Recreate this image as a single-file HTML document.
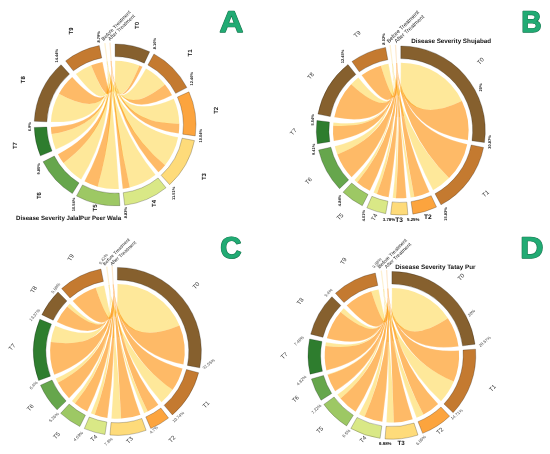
<!DOCTYPE html>
<html lang="en"><head><meta charset="utf-8"><title>Disease Severity chord diagrams</title>
<style>html,body{margin:0;padding:0;background:#fff}body{width:550px;height:454px;overflow:hidden}svg{display:block;text-rendering:geometricPrecision}</style></head>
<body>
<svg width="550" height="454" viewBox="0 0 550 454" font-family="'Liberation Sans', Arial, sans-serif">
<g><path d="M115.1 60.7A64.2 64.2 0 0 1 139.42 65.49Q115.1 124.9 107.51 61.15A64.2 64.2 0 0 1 107.61 61.14Q115.1 124.9 115.1 60.7Z" fill="#fed135" fill-opacity="0.5"/>
<path d="M145.93 68.59A64.2 64.2 0 0 1 165 84.5Q115.1 124.9 107.41 61.16A64.2 64.2 0 0 1 107.51 61.15Q115.1 124.9 145.93 68.59Z" fill="#fed135" fill-opacity="0.5"/>
<path d="M173.7 98.69A64.2 64.2 0 0 1 179.29 123.63Q115.1 124.9 107.3 61.18A64.2 64.2 0 0 1 107.41 61.16Q115.1 124.9 173.7 98.69Z" fill="#fed135" fill-opacity="0.5"/>
<path d="M178.08 137.37A64.2 64.2 0 0 1 165.09 165.18Q115.1 124.9 107.17 61.19A64.2 64.2 0 0 1 107.3 61.18Q115.1 124.9 178.08 137.37Z" fill="#fed135" fill-opacity="0.5"/>
<path d="M155.5 174.79A64.2 64.2 0 0 1 129.8 187.39Q115.1 124.9 107.06 61.21A64.2 64.2 0 0 1 107.17 61.19Q115.1 124.9 155.5 174.79Z" fill="#fed135" fill-opacity="0.5"/>
<path d="M118.91 188.99A64.2 64.2 0 0 1 97.68 186.69Q115.1 124.9 106.97 61.22A64.2 64.2 0 0 1 107.06 61.21Q115.1 124.9 118.91 188.99Z" fill="#fed135" fill-opacity="0.5"/>
<path d="M81.17 179.4A64.2 64.2 0 0 1 63.43 163Q115.1 124.9 106.87 61.23A64.2 64.2 0 0 1 106.97 61.22Q115.1 124.9 81.17 179.4Z" fill="#fed135" fill-opacity="0.5"/>
<path d="M55.79 149.47A64.2 64.2 0 0 1 51.56 134.08Q115.1 124.9 106.8 61.24A64.2 64.2 0 0 1 106.87 61.23Q115.1 124.9 55.79 149.47Z" fill="#fed135" fill-opacity="0.5"/>
<path d="M50.97 121.99A64.2 64.2 0 0 1 58.94 93.79Q115.1 124.9 106.68 61.25A64.2 64.2 0 0 1 106.8 61.24Q115.1 124.9 50.97 121.99Z" fill="#fed135" fill-opacity="0.5"/>
<path d="M75.84 74.1A64.2 64.2 0 0 1 91.2 65.32Q115.1 124.9 106.61 61.26A64.2 64.2 0 0 1 106.68 61.25Q115.1 124.9 75.84 74.1Z" fill="#fed135" fill-opacity="0.5"/>
<path d="M139.42 65.49A64.2 64.2 0 0 1 142.54 66.86Q115.1 124.9 111.6 60.8A64.2 64.2 0 0 1 111.63 60.79Q115.1 124.9 139.42 65.49Z" fill="#fd8c02" fill-opacity="0.6"/>
<path d="M165 84.5A64.2 64.2 0 0 1 172.05 95.26Q115.1 124.9 111.48 60.8A64.2 64.2 0 0 1 111.6 60.8Q115.1 124.9 165 84.5Z" fill="#fd8c02" fill-opacity="0.6"/>
<path d="M179.29 123.63A64.2 64.2 0 0 1 178.71 133.61Q115.1 124.9 111.38 60.81A64.2 64.2 0 0 1 111.48 60.8Q115.1 124.9 179.29 123.63Z" fill="#fd8c02" fill-opacity="0.6"/>
<path d="M165.09 165.18A64.2 64.2 0 0 1 158.39 172.31Q115.1 124.9 111.29 60.81A64.2 64.2 0 0 1 111.38 60.81Q115.1 124.9 165.09 165.18Z" fill="#fd8c02" fill-opacity="0.6"/>
<path d="M129.8 187.39A64.2 64.2 0 0 1 122.7 188.65Q115.1 124.9 111.23 60.82A64.2 64.2 0 0 1 111.29 60.81Q115.1 124.9 129.8 187.39Z" fill="#fd8c02" fill-opacity="0.6"/>
<path d="M97.68 186.69A64.2 64.2 0 0 1 84.47 181.32Q115.1 124.9 111.09 60.83A64.2 64.2 0 0 1 111.23 60.82Q115.1 124.9 97.68 186.69Z" fill="#fd8c02" fill-opacity="0.6"/>
<path d="M63.43 163A64.2 64.2 0 0 1 57.95 154.15Q115.1 124.9 111 60.83A64.2 64.2 0 0 1 111.09 60.83Q115.1 124.9 63.43 163Z" fill="#fd8c02" fill-opacity="0.6"/>
<path d="M51.56 134.08A64.2 64.2 0 0 1 50.93 126.92Q115.1 124.9 110.93 60.84A64.2 64.2 0 0 1 111 60.83Q115.1 124.9 51.56 134.08Z" fill="#fd8c02" fill-opacity="0.6"/>
<path d="M58.94 93.79A64.2 64.2 0 0 1 72.23 77.12Q115.1 124.9 110.73 60.85A64.2 64.2 0 0 1 110.93 60.84Q115.1 124.9 58.94 93.79Z" fill="#fd8c02" fill-opacity="0.6"/>
<path d="M91.2 65.32A64.2 64.2 0 0 1 102.52 61.94Q115.1 124.9 110.62 60.86A64.2 64.2 0 0 1 110.73 60.85Q115.1 124.9 91.2 65.32Z" fill="#fd8c02" fill-opacity="0.6"/>
<path d="M115.1 60.7Q115.1 99.22 112.4 91.67M142.54 66.86Q126.07 101.68 118.23 92.54M145.93 68.59Q127.43 102.37 117.3 92.94M172.05 95.26Q137.88 113.04 122.91 97.08M173.7 98.69Q138.54 114.41 121.71 97.76M178.71 133.61Q140.54 128.39 123.94 103.22M178.08 137.37Q140.29 129.89 122.37 103.95M158.39 172.31Q132.42 143.86 120.66 109.41M155.5 174.79Q131.26 144.86 118.71 109.95M122.7 188.65Q118.14 150.4 114.92 112.03M118.91 188.99Q116.62 150.53 112.81 112.22M84.47 181.32Q102.85 147.47 108.76 110.86M81.17 179.4Q101.53 146.7 106.74 110.69M57.95 154.15Q92.24 136.6 104.48 106.51M55.79 149.47Q91.37 134.73 102.65 105.91M50.93 126.92Q89.43 125.71 103.33 102.16M50.97 121.99Q89.45 123.74 101.85 101.52M72.23 77.12Q97.95 105.79 106.67 94.2M75.84 74.1Q99.4 104.58 105.79 93.86M102.52 61.94Q110.07 99.72 111.48 91.77" fill="none" stroke="#fff" stroke-width="0.2"/>
<path d="M115.1 44A80.9 80.9 0 0 1 149.67 51.76L144.29 63.15A68.3 68.3 0 0 0 115.1 56.6Z" fill="#86602e" stroke="#000" stroke-opacity=".45" stroke-width=".5"/>
<path d="M153.95 53.94A80.9 80.9 0 0 1 186.86 87.54L175.68 93.36A68.3 68.3 0 0 0 147.9 64.99Z" fill="#c47a30" stroke="#000" stroke-opacity=".45" stroke-width=".5"/>
<path d="M188.95 91.87A80.9 80.9 0 0 1 195.25 135.88L182.77 134.17A68.3 68.3 0 0 0 177.45 97.01Z" fill="#fca43e" stroke="#000" stroke-opacity=".45" stroke-width=".5"/>
<path d="M194.46 140.61A80.9 80.9 0 0 1 169.65 184.64L161.15 175.34A68.3 68.3 0 0 0 182.1 138.17Z" fill="#fedb7a" stroke="#000" stroke-opacity=".45" stroke-width=".5"/>
<path d="M166.01 187.77A80.9 80.9 0 0 1 124.68 205.23L123.19 192.72A68.3 68.3 0 0 0 158.08 177.98Z" fill="#d9e886" stroke="#000" stroke-opacity=".45" stroke-width=".5"/>
<path d="M119.9 205.66A80.9 80.9 0 0 1 76.5 196L82.51 184.92A68.3 68.3 0 0 0 119.15 193.08Z" fill="#9dc864" stroke="#000" stroke-opacity=".45" stroke-width=".5"/>
<path d="M72.35 193.58A80.9 80.9 0 0 1 43.08 161.75L54.3 156.01A68.3 68.3 0 0 0 79.01 182.88Z" fill="#66a64c" stroke="#000" stroke-opacity=".45" stroke-width=".5"/>
<path d="M40.36 155.86A80.9 80.9 0 0 1 34.24 127.44L46.83 127.05A68.3 68.3 0 0 0 52 151.04Z" fill="#2e7d2e" stroke="#000" stroke-opacity=".45" stroke-width=".5"/>
<path d="M34.28 121.23A80.9 80.9 0 0 1 61.07 64.69L69.49 74.06A68.3 68.3 0 0 0 46.87 121.8Z" fill="#86602e" stroke="#000" stroke-opacity=".45" stroke-width=".5"/>
<path d="M65.63 60.89A80.9 80.9 0 0 1 99.25 45.57L101.72 57.92A68.3 68.3 0 0 0 73.33 70.86Z" fill="#c47a30" stroke="#000" stroke-opacity=".45" stroke-width=".5"/>
<path d="M104.2 43.22A82.4 82.4 0 0 1 105.49 43.06L107.61 61.14A64.2 64.2 0 0 0 106.61 61.26Z" fill="#fdf1d2"/>
<path d="M109.35 42.7A82.4 82.4 0 0 1 110.64 42.62L111.63 60.79A64.2 64.2 0 0 0 110.62 60.86Z" fill="#fde9cf"/></g>
<g><path d="M400.8 62.7A67.8 67.8 0 0 1 461.9 101.12Q400.8 130.5 392.32 63.23A67.8 67.8 0 0 1 392.89 63.16Q400.8 130.5 400.8 62.7Z" fill="#fed135" fill-opacity="0.5"/>
<path d="M449.08 178.11A67.8 67.8 0 0 1 433.05 190.14Q400.8 130.5 392.17 63.25A67.8 67.8 0 0 1 392.32 63.23Q400.8 130.5 449.08 178.11Z" fill="#fed135" fill-opacity="0.5"/>
<path d="M414.39 196.92A67.8 67.8 0 0 1 410.47 197.61Q400.8 130.5 392.14 63.26A67.8 67.8 0 0 1 392.17 63.25Q400.8 130.5 414.39 196.92Z" fill="#fed135" fill-opacity="0.5"/>
<path d="M395.96 198.13A67.8 67.8 0 0 1 392.65 197.81Q400.8 130.5 392.11 63.26A67.8 67.8 0 0 1 392.14 63.26Q400.8 130.5 395.96 198.13Z" fill="#fed135" fill-opacity="0.5"/>
<path d="M376.93 193.96A67.8 67.8 0 0 1 373.55 192.58Q400.8 130.5 392.08 63.26A67.8 67.8 0 0 1 392.11 63.26Q400.8 130.5 376.93 193.96Z" fill="#fed135" fill-opacity="0.5"/>
<path d="M357.16 182.39A67.8 67.8 0 0 1 354.47 180.01Q400.8 130.5 392.06 63.27A67.8 67.8 0 0 1 392.08 63.26Q400.8 130.5 357.16 182.39Z" fill="#fed135" fill-opacity="0.5"/>
<path d="M337.35 154.38A67.8 67.8 0 0 1 334.85 146.21Q400.8 130.5 391.99 63.27A67.8 67.8 0 0 1 392.06 63.27Q400.8 130.5 337.35 154.38Z" fill="#fed135" fill-opacity="0.5"/>
<path d="M333.17 125.64A67.8 67.8 0 0 1 333.48 122.47Q400.8 130.5 391.97 63.28A67.8 67.8 0 0 1 391.99 63.27Q400.8 130.5 333.17 125.64Z" fill="#fed135" fill-opacity="0.5"/>
<path d="M351.12 84.37A67.8 67.8 0 0 1 358.41 77.59Q400.8 130.5 391.89 63.29A67.8 67.8 0 0 1 391.97 63.28Q400.8 130.5 351.12 84.37Z" fill="#fed135" fill-opacity="0.5"/>
<path d="M380.84 65.71A67.8 67.8 0 0 1 388.56 63.81Q400.8 130.5 391.83 63.3A67.8 67.8 0 0 1 391.89 63.29Q400.8 130.5 380.84 65.71Z" fill="#fed135" fill-opacity="0.5"/>
<path d="M461.9 101.12A67.8 67.8 0 0 1 467.91 140.17Q400.8 130.5 396.95 62.81A67.8 67.8 0 0 1 397.13 62.8Q400.8 130.5 461.9 101.12Z" fill="#fd8c02" fill-opacity="0.6"/>
<path d="M467.22 144.13A67.8 67.8 0 0 1 449.08 178.11Q400.8 130.5 396.77 62.82A67.8 67.8 0 0 1 396.95 62.81Q400.8 130.5 467.22 144.13Z" fill="#fd8c02" fill-opacity="0.6"/>
<path d="M429.45 191.95A67.8 67.8 0 0 1 414.39 196.92Q400.8 130.5 396.7 62.82A67.8 67.8 0 0 1 396.77 62.82Q400.8 130.5 429.45 191.95Z" fill="#fd8c02" fill-opacity="0.6"/>
<path d="M406.47 198.06A67.8 67.8 0 0 1 395.96 198.13Q400.8 130.5 396.66 62.83A67.8 67.8 0 0 1 396.7 62.82Q400.8 130.5 406.47 198.06Z" fill="#fd8c02" fill-opacity="0.6"/>
<path d="M388.68 197.21A67.8 67.8 0 0 1 376.93 193.96Q400.8 130.5 396.6 62.83A67.8 67.8 0 0 1 396.66 62.83Q400.8 130.5 388.68 197.21Z" fill="#fd8c02" fill-opacity="0.6"/>
<path d="M369.91 190.86A67.8 67.8 0 0 1 357.16 182.39Q400.8 130.5 396.53 62.83A67.8 67.8 0 0 1 396.6 62.83Q400.8 130.5 369.91 190.86Z" fill="#fd8c02" fill-opacity="0.6"/>
<path d="M351.62 177.17A67.8 67.8 0 0 1 337.35 154.38Q400.8 130.5 396.41 62.84A67.8 67.8 0 0 1 396.53 62.83Q400.8 130.5 351.62 177.17Z" fill="#fd8c02" fill-opacity="0.6"/>
<path d="M333.83 141.11A67.8 67.8 0 0 1 333.17 125.64Q400.8 130.5 396.34 62.85A67.8 67.8 0 0 1 396.41 62.84Q400.8 130.5 333.83 141.11Z" fill="#fd8c02" fill-opacity="0.6"/>
<path d="M334.29 117.33A67.8 67.8 0 0 1 351.12 84.37Q400.8 130.5 396.17 62.86A67.8 67.8 0 0 1 396.34 62.85Q400.8 130.5 334.29 117.33Z" fill="#fd8c02" fill-opacity="0.6"/>
<path d="M361.62 75.17A67.8 67.8 0 0 1 380.84 65.71Q400.8 130.5 396.07 62.87A67.8 67.8 0 0 1 396.17 62.86Q400.8 130.5 361.62 75.17Z" fill="#fd8c02" fill-opacity="0.6"/>
<path d="M400.8 62.7Q400.8 103.38 397.95 95.41M467.91 140.17Q427.64 134.37 410.15 107.68M467.22 144.13Q427.37 135.95 410.04 108.31M433.05 190.14Q413.7 154.36 402.85 115.83M429.45 191.95Q412.26 155.08 403.94 115.97M410.47 197.61Q404.67 157.34 399.23 117.03M406.47 198.06Q403.07 157.52 400.23 116.95M392.65 197.81Q397.54 157.42 396.37 117.06M388.68 197.21Q395.95 157.18 397.37 116.81M373.55 192.58Q389.9 155.33 393.3 116.23M369.91 190.86Q388.45 154.64 394.35 115.8M354.47 180.01Q382.27 150.3 390.24 114.22M351.62 177.17Q381.13 149.17 391.39 113.61M334.85 146.21Q374.42 136.79 387.08 108.81M333.83 141.11Q374.01 134.74 388.5 107.84M333.48 122.47Q373.87 127.29 386.85 105.02M334.29 117.33Q374.2 125.23 388.55 104.04M358.41 77.59Q383.84 109.33 390.81 97.84M361.62 75.17Q385.13 108.37 392.86 97.3M388.56 63.81Q395.9 103.83 395.61 95.64" fill="none" stroke="#fff" stroke-width="0.2"/>
<path d="M400.8 46A84.5 84.5 0 0 1 484.44 142.55L471.96 140.76A71.9 71.9 0 0 0 400.8 58.6Z" fill="#86602e" stroke="#000" stroke-opacity=".45" stroke-width=".5"/>
<path d="M483.57 147.49A84.5 84.5 0 0 1 440.99 204.83L435 193.75A71.9 71.9 0 0 0 471.23 144.96Z" fill="#c47a30" stroke="#000" stroke-opacity=".45" stroke-width=".5"/>
<path d="M436.51 207.08A84.5 84.5 0 0 1 412.85 214.14L411.06 201.66A71.9 71.9 0 0 0 431.19 195.66Z" fill="#fca43e" stroke="#000" stroke-opacity=".45" stroke-width=".5"/>
<path d="M407.87 214.7A84.5 84.5 0 0 1 390.65 214.39L392.16 201.88A71.9 71.9 0 0 0 406.82 202.15Z" fill="#fedb7a" stroke="#000" stroke-opacity=".45" stroke-width=".5"/>
<path d="M385.69 213.64A84.5 84.5 0 0 1 366.84 207.87L371.9 196.34A71.9 71.9 0 0 0 387.94 201.24Z" fill="#d9e886" stroke="#000" stroke-opacity=".45" stroke-width=".5"/>
<path d="M362.31 205.72A84.5 84.5 0 0 1 343.06 192.2L351.67 183A71.9 71.9 0 0 0 368.05 194.51Z" fill="#9dc864" stroke="#000" stroke-opacity=".45" stroke-width=".5"/>
<path d="M339.51 188.67A84.5 84.5 0 0 1 318.6 150.08L330.86 147.16A71.9 71.9 0 0 0 348.65 179.99Z" fill="#66a64c" stroke="#000" stroke-opacity=".45" stroke-width=".5"/>
<path d="M317.34 143.72A84.5 84.5 0 0 1 316.89 120.49L329.41 121.99A71.9 71.9 0 0 0 329.79 141.75Z" fill="#2e7d2e" stroke="#000" stroke-opacity=".45" stroke-width=".5"/>
<path d="M317.91 114.09A84.5 84.5 0 0 1 347.97 64.55L355.85 74.39A71.9 71.9 0 0 0 330.27 116.53Z" fill="#86602e" stroke="#000" stroke-opacity=".45" stroke-width=".5"/>
<path d="M351.97 61.54A84.5 84.5 0 0 1 385.55 47.39L387.82 59.78A71.9 71.9 0 0 0 359.25 71.82Z" fill="#c47a30" stroke="#000" stroke-opacity=".45" stroke-width=".5"/>
<path d="M389.43 45.26A86 86 0 0 1 390.77 45.09L392.89 63.16A67.8 67.8 0 0 0 391.83 63.3Z" fill="#fdf1d2"/>
<path d="M394.8 44.71A86 86 0 0 1 396.15 44.63L397.13 62.8A67.8 67.8 0 0 0 396.07 62.87Z" fill="#fde9cf"/></g>
<g><path d="M117.4 284.1A67.3 67.3 0 0 1 179.52 325.5Q117.4 351.4 109 284.63A67.3 67.3 0 0 1 109.55 284.56Q117.4 351.4 117.4 284.1Z" fill="#fed135" fill-opacity="0.5"/>
<path d="M172.65 389.83A67.3 67.3 0 0 1 161.46 402.27Q117.4 351.4 108.89 284.64A67.3 67.3 0 0 1 109 284.63Q117.4 351.4 172.65 389.83Z" fill="#fed135" fill-opacity="0.5"/>
<path d="M147.73 411.48A67.3 67.3 0 0 1 144.13 413.16Q117.4 351.4 108.86 284.64A67.3 67.3 0 0 1 108.89 284.64Q117.4 351.4 147.73 411.48Z" fill="#fed135" fill-opacity="0.5"/>
<path d="M121.14 418.6A67.3 67.3 0 0 1 111.42 418.43Q117.4 351.4 108.79 284.65A67.3 67.3 0 0 1 108.86 284.64Q117.4 351.4 121.14 418.6Z" fill="#fed135" fill-opacity="0.5"/>
<path d="M94.74 414.77A67.3 67.3 0 0 1 90.89 413.26Q117.4 351.4 108.76 284.66A67.3 67.3 0 0 1 108.79 284.65Q117.4 351.4 94.74 414.77Z" fill="#fed135" fill-opacity="0.5"/>
<path d="M74.9 403.58A67.3 67.3 0 0 1 71.93 401.02Q117.4 351.4 108.74 284.66A67.3 67.3 0 0 1 108.76 284.66Q117.4 351.4 74.9 403.58Z" fill="#fed135" fill-opacity="0.5"/>
<path d="M57.86 382.77A67.3 67.3 0 0 1 55.78 378.45Q117.4 351.4 108.7 284.66A67.3 67.3 0 0 1 108.74 284.66Q117.4 351.4 57.86 382.77Z" fill="#fed135" fill-opacity="0.5"/>
<path d="M50.75 342.09A67.3 67.3 0 0 1 55.22 325.65Q117.4 351.4 108.59 284.68A67.3 67.3 0 0 1 108.7 284.66Q117.4 351.4 50.75 342.09Z" fill="#fed135" fill-opacity="0.5"/>
<path d="M67.19 306.58A67.3 67.3 0 0 1 69.81 303.81Q117.4 351.4 108.56 284.68A67.3 67.3 0 0 1 108.59 284.68Q117.4 351.4 67.19 306.58Z" fill="#fed135" fill-opacity="0.5"/>
<path d="M95.63 287.72A67.3 67.3 0 0 1 104.21 285.4Q117.4 351.4 108.5 284.69A67.3 67.3 0 0 1 108.56 284.68Q117.4 351.4 95.63 287.72Z" fill="#fed135" fill-opacity="0.5"/>
<path d="M179.52 325.5A67.3 67.3 0 0 1 183.4 364.59Q117.4 351.4 113.57 284.21A67.3 67.3 0 0 1 113.76 284.2Q117.4 351.4 179.52 325.5Z" fill="#fd8c02" fill-opacity="0.6"/>
<path d="M182.5 368.48A67.3 67.3 0 0 1 172.65 389.83Q117.4 351.4 113.46 284.22A67.3 67.3 0 0 1 113.57 284.21Q117.4 351.4 182.5 368.48Z" fill="#fd8c02" fill-opacity="0.6"/>
<path d="M158.37 404.79A67.3 67.3 0 0 1 147.73 411.48Q117.4 351.4 113.4 284.22A67.3 67.3 0 0 1 113.46 284.22Q117.4 351.4 158.37 404.79Z" fill="#fd8c02" fill-opacity="0.6"/>
<path d="M140.42 414.64A67.3 67.3 0 0 1 121.14 418.6Q117.4 351.4 113.3 284.22A67.3 67.3 0 0 1 113.4 284.22Q117.4 351.4 140.42 414.64Z" fill="#fd8c02" fill-opacity="0.6"/>
<path d="M107.45 417.96A67.3 67.3 0 0 1 94.74 414.77Q117.4 351.4 113.24 284.23A67.3 67.3 0 0 1 113.3 284.22Q117.4 351.4 107.45 417.96Z" fill="#fd8c02" fill-opacity="0.6"/>
<path d="M87.27 411.58A67.3 67.3 0 0 1 74.9 403.58Q117.4 351.4 113.17 284.23A67.3 67.3 0 0 1 113.24 284.23Q117.4 351.4 87.27 411.58Z" fill="#fd8c02" fill-opacity="0.6"/>
<path d="M69.07 398.23A67.3 67.3 0 0 1 57.86 382.77Q117.4 351.4 113.08 284.24A67.3 67.3 0 0 1 113.17 284.23Q117.4 351.4 69.07 398.23Z" fill="#fd8c02" fill-opacity="0.6"/>
<path d="M54.28 374.75A67.3 67.3 0 0 1 50.75 342.09Q117.4 351.4 112.92 284.25A67.3 67.3 0 0 1 113.08 284.24Q117.4 351.4 54.28 374.75Z" fill="#fd8c02" fill-opacity="0.6"/>
<path d="M56.86 322A67.3 67.3 0 0 1 67.19 306.58Q117.4 351.4 112.83 284.26A67.3 67.3 0 0 1 112.92 284.25Q117.4 351.4 56.86 322Z" fill="#fd8c02" fill-opacity="0.6"/>
<path d="M72.72 301.07A67.3 67.3 0 0 1 95.63 287.72Q117.4 351.4 112.71 284.26A67.3 67.3 0 0 1 112.83 284.26Q117.4 351.4 72.72 301.07Z" fill="#fd8c02" fill-opacity="0.6"/>
<path d="M117.4 284.1Q117.4 324.48 114.57 316.57M183.4 364.59Q143.8 356.67 126.58 329.32M182.5 368.48Q143.44 358.23 126.44 329.94M161.46 402.27Q135.03 371.75 121.39 335.51M158.37 404.79Q133.79 372.76 122.54 335.76M144.13 413.16Q128.09 376.11 118.6 337.25M140.42 414.64Q126.61 376.7 119.64 337.33M111.42 418.43Q115.01 378.21 113.34 338.1M107.45 417.96Q113.42 378.02 114.33 337.87M90.89 413.26Q106.8 376.14 110.05 337.27M87.27 411.58Q105.35 375.47 111.08 336.85M71.93 401.02Q99.21 371.25 107.01 335.31M69.07 398.23Q98.07 370.13 108.14 334.71M55.78 378.45Q92.75 362.22 104.41 331.7M54.28 374.75Q92.15 360.74 105.75 330.96M55.22 325.65Q92.53 341.1 104.28 323.26M56.86 322Q93.18 339.64 106.1 322.52M69.81 303.81Q98.36 332.36 106.6 319.77M72.72 301.07Q99.53 331.27 108.61 319.18M104.21 285.4Q112.13 325 112.09 316.83" fill="none" stroke="#fff" stroke-width="0.2"/>
<path d="M117.4 267.4A84 84 0 0 1 199.77 367.86L187.42 365.39A71.4 71.4 0 0 0 117.4 280Z" fill="#86602e" stroke="#000" stroke-opacity=".45" stroke-width=".5"/>
<path d="M198.65 372.72A84 84 0 0 1 172.4 414.89L164.15 405.37A71.4 71.4 0 0 0 186.46 369.52Z" fill="#c47a30" stroke="#000" stroke-opacity=".45" stroke-width=".5"/>
<path d="M168.54 418.04A84 84 0 0 1 150.76 428.49L145.76 416.93A71.4 71.4 0 0 0 160.87 408.05Z" fill="#fca43e" stroke="#000" stroke-opacity=".45" stroke-width=".5"/>
<path d="M146.13 430.33A84 84 0 0 1 109.93 435.07L111.05 422.52A71.4 71.4 0 0 0 141.82 418.49Z" fill="#fedb7a" stroke="#000" stroke-opacity=".45" stroke-width=".5"/>
<path d="M104.98 434.48A84 84 0 0 1 84.31 428.61L89.27 417.03A71.4 71.4 0 0 0 106.85 422.02Z" fill="#d9e886" stroke="#000" stroke-opacity=".45" stroke-width=".5"/>
<path d="M79.79 426.51A84 84 0 0 1 60.65 413.33L69.16 404.04A71.4 71.4 0 0 0 85.43 415.24Z" fill="#9dc864" stroke="#000" stroke-opacity=".45" stroke-width=".5"/>
<path d="M57.08 409.86A84 84 0 0 1 40.48 385.16L52.02 380.1A71.4 71.4 0 0 0 66.13 401.09Z" fill="#66a64c" stroke="#000" stroke-opacity=".45" stroke-width=".5"/>
<path d="M38.62 380.54A84 84 0 0 1 39.79 319.25L51.44 324.08A71.4 71.4 0 0 0 50.43 376.17Z" fill="#2e7d2e" stroke="#000" stroke-opacity=".45" stroke-width=".5"/>
<path d="M41.84 314.71A84 84 0 0 1 58 292L66.91 300.91A71.4 71.4 0 0 0 53.17 320.21Z" fill="#86602e" stroke="#000" stroke-opacity=".45" stroke-width=".5"/>
<path d="M61.63 288.58A84 84 0 0 1 100.94 269.03L103.41 281.38A71.4 71.4 0 0 0 70 298.01Z" fill="#c47a30" stroke="#000" stroke-opacity=".45" stroke-width=".5"/>
<path d="M106.09 266.65A85.5 85.5 0 0 1 107.42 266.48L109.55 284.56A67.3 67.3 0 0 0 108.5 284.69Z" fill="#fdf1d2"/>
<path d="M111.44 266.11A85.5 85.5 0 0 1 112.78 266.03L113.76 284.2A67.3 67.3 0 0 0 112.71 284.26Z" fill="#fde9cf"/></g>
<g><path d="M391.9 288.1A67.2 67.2 0 0 1 447.9 318.16Q391.9 355.3 383.54 288.62A67.2 67.2 0 0 1 384.06 288.56Q391.9 355.3 391.9 288.1Z" fill="#fed135" fill-opacity="0.5"/>
<path d="M453.76 381.55A67.2 67.2 0 0 1 440.97 401.22Q391.9 355.3 383.35 288.65A67.2 67.2 0 0 1 383.54 288.62Q391.9 355.3 453.76 381.55Z" fill="#fed135" fill-opacity="0.5"/>
<path d="M423.55 414.58A67.2 67.2 0 0 1 416.53 417.82Q391.9 355.3 383.29 288.65A67.2 67.2 0 0 1 383.35 288.65Q391.9 355.3 423.55 414.58Z" fill="#fed135" fill-opacity="0.5"/>
<path d="M393.87 422.47A67.2 67.2 0 0 1 386.39 422.27Q391.9 355.3 383.23 288.66A67.2 67.2 0 0 1 383.29 288.65Q391.9 355.3 393.87 422.47Z" fill="#fed135" fill-opacity="0.5"/>
<path d="M364.57 416.69A67.2 67.2 0 0 1 359.01 413.9Q391.9 355.3 383.18 288.67A67.2 67.2 0 0 1 383.23 288.66Q391.9 355.3 364.57 416.69Z" fill="#fed135" fill-opacity="0.5"/>
<path d="M340.5 398.59A67.2 67.2 0 0 1 337.4 394.61Q391.9 355.3 383.15 288.67A67.2 67.2 0 0 1 383.18 288.67Q391.9 355.3 340.5 398.59Z" fill="#fed135" fill-opacity="0.5"/>
<path d="M327.65 374.99A67.2 67.2 0 0 1 327.43 374.27Q391.9 355.3 383.14 288.67A67.2 67.2 0 0 1 383.15 288.67Q391.9 355.3 327.65 374.99Z" fill="#fed135" fill-opacity="0.5"/>
<path d="M325.36 345.88A67.2 67.2 0 0 1 325.98 342.25Q391.9 355.3 383.11 288.68A67.2 67.2 0 0 1 383.14 288.67Q391.9 355.3 325.36 345.88Z" fill="#fed135" fill-opacity="0.5"/>
<path d="M340.53 311.98A67.2 67.2 0 0 1 343.81 308.37Q391.9 355.3 383.07 288.68A67.2 67.2 0 0 1 383.11 288.68Q391.9 355.3 340.53 311.98Z" fill="#fed135" fill-opacity="0.5"/>
<path d="M371.26 291.35A67.2 67.2 0 0 1 378.62 289.43Q391.9 355.3 383.01 288.69A67.2 67.2 0 0 1 383.07 288.68Q391.9 355.3 371.26 291.35Z" fill="#fed135" fill-opacity="0.5"/>
<path d="M447.9 318.16A67.2 67.2 0 0 1 458.51 346.41Q391.9 355.3 388.13 288.21A67.2 67.2 0 0 1 388.27 288.2Q391.9 355.3 447.9 318.16Z" fill="#fd8c02" fill-opacity="0.6"/>
<path d="M458.92 350.38A67.2 67.2 0 0 1 453.76 381.55Q391.9 355.3 387.99 288.21A67.2 67.2 0 0 1 388.13 288.21Q391.9 355.3 458.92 350.38Z" fill="#fd8c02" fill-opacity="0.6"/>
<path d="M438.16 404.05A67.2 67.2 0 0 1 423.55 414.58Q391.9 355.3 387.91 288.22A67.2 67.2 0 0 1 387.99 288.21Q391.9 355.3 438.16 404.05Z" fill="#fd8c02" fill-opacity="0.6"/>
<path d="M412.78 419.17A67.2 67.2 0 0 1 393.87 422.47Q391.9 355.3 387.83 288.22A67.2 67.2 0 0 1 387.91 288.22Q391.9 355.3 412.78 419.17Z" fill="#fd8c02" fill-opacity="0.6"/>
<path d="M382.43 421.83A67.2 67.2 0 0 1 364.57 416.69Q391.9 355.3 387.75 288.23A67.2 67.2 0 0 1 387.83 288.22Q391.9 355.3 382.43 421.83Z" fill="#fd8c02" fill-opacity="0.6"/>
<path d="M355.6 411.85A67.2 67.2 0 0 1 340.5 398.59Q391.9 355.3 387.66 288.23A67.2 67.2 0 0 1 387.75 288.23Q391.9 355.3 355.6 411.85Z" fill="#fd8c02" fill-opacity="0.6"/>
<path d="M335.16 391.31A67.2 67.2 0 0 1 327.65 374.99Q391.9 355.3 387.58 288.24A67.2 67.2 0 0 1 387.66 288.23Q391.9 355.3 335.16 391.31Z" fill="#fd8c02" fill-opacity="0.6"/>
<path d="M326.42 370.42A67.2 67.2 0 0 1 325.36 345.88Q391.9 355.3 387.47 288.25A67.2 67.2 0 0 1 387.58 288.24Q391.9 355.3 326.42 370.42Z" fill="#fd8c02" fill-opacity="0.6"/>
<path d="M326.87 338.36A67.2 67.2 0 0 1 340.53 311.98Q391.9 355.3 387.34 288.26A67.2 67.2 0 0 1 387.47 288.25Q391.9 355.3 326.87 338.36Z" fill="#fd8c02" fill-opacity="0.6"/>
<path d="M346.67 305.6A67.2 67.2 0 0 1 371.26 291.35Q391.9 355.3 387.21 288.26A67.2 67.2 0 0 1 387.34 288.26Q391.9 355.3 346.67 305.6Z" fill="#fd8c02" fill-opacity="0.6"/>
<path d="M391.9 288.1Q391.9 328.42 389.08 320.52M458.51 346.41Q418.54 351.74 401.2 329.72M458.92 350.38Q418.71 353.33 401.27 330.36M440.97 401.22Q411.53 373.67 396.67 338.65M438.16 404.05Q410.4 374.8 397.89 338.95M416.53 417.82Q401.75 380.31 392.74 341.31M412.78 419.17Q400.25 380.85 393.8 341.37M386.39 422.27Q389.7 382.09 387.9 342.03M382.43 421.83Q388.11 381.91 388.92 341.8M359.01 413.9Q378.75 378.74 383.5 340.69M355.6 411.85Q377.38 377.92 384.6 340.2M337.4 394.61Q370.1 371.02 380.03 337.6M335.16 391.31Q369.2 369.7 381.29 336.92M327.43 374.27Q366.11 362.89 378.43 334.35M326.42 370.42Q365.71 361.35 379.87 333.58M325.98 342.25Q365.53 350.08 378.19 329.23M326.87 338.36Q365.89 348.52 379.9 328.45M343.81 308.37Q372.66 336.53 381.03 323.81M346.67 305.6Q373.81 335.42 383.02 323.21M378.62 289.43Q386.59 328.95 386.58 320.78" fill="none" stroke="#fff" stroke-width="0.2"/>
<path d="M391.9 271.4A83.9 83.9 0 0 1 475.06 344.2L462.57 345.87A71.3 71.3 0 0 0 391.9 284Z" fill="#86602e" stroke="#000" stroke-opacity=".45" stroke-width=".5"/>
<path d="M475.57 349.16A83.9 83.9 0 0 1 453.16 412.63L443.96 404.02A71.3 71.3 0 0 0 463.01 350.08Z" fill="#c47a30" stroke="#000" stroke-opacity=".45" stroke-width=".5"/>
<path d="M449.65 416.16A83.9 83.9 0 0 1 422.65 433.36L418.03 421.64A71.3 71.3 0 0 0 440.98 407.02Z" fill="#fca43e" stroke="#000" stroke-opacity=".45" stroke-width=".5"/>
<path d="M417.97 435.05A83.9 83.9 0 0 1 385.03 438.92L386.06 426.36A71.3 71.3 0 0 0 414.05 423.07Z" fill="#fedb7a" stroke="#000" stroke-opacity=".45" stroke-width=".5"/>
<path d="M380.08 438.36A83.9 83.9 0 0 1 350.84 428.47L357.01 417.48A71.3 71.3 0 0 0 381.85 425.89Z" fill="#d9e886" stroke="#000" stroke-opacity=".45" stroke-width=".5"/>
<path d="M346.57 425.9A83.9 83.9 0 0 1 323.85 404.38L334.07 397.01A71.3 71.3 0 0 0 353.38 415.3Z" fill="#9dc864" stroke="#000" stroke-opacity=".45" stroke-width=".5"/>
<path d="M321.06 400.26A83.9 83.9 0 0 1 311.41 378.99L323.5 375.43A71.3 71.3 0 0 0 331.7 393.5Z" fill="#66a64c" stroke="#000" stroke-opacity=".45" stroke-width=".5"/>
<path d="M310.15 374.17A83.9 83.9 0 0 1 309.6 339L321.96 341.45A71.3 71.3 0 0 0 322.43 371.34Z" fill="#2e7d2e" stroke="#000" stroke-opacity=".45" stroke-width=".5"/>
<path d="M310.71 334.15A83.9 83.9 0 0 1 331.85 296.7L340.87 305.5A71.3 71.3 0 0 0 322.9 337.33Z" fill="#86602e" stroke="#000" stroke-opacity=".45" stroke-width=".5"/>
<path d="M335.43 293.24A83.9 83.9 0 0 1 375.32 273.06L377.81 285.41A71.3 71.3 0 0 0 343.91 302.56Z" fill="#c47a30" stroke="#000" stroke-opacity=".45" stroke-width=".5"/>
<path d="M380.61 270.65A85.4 85.4 0 0 1 381.94 270.48L384.06 288.56A67.2 67.2 0 0 0 383.01 288.69Z" fill="#fdf1d2"/>
<path d="M385.94 270.11A85.4 85.4 0 0 1 387.28 270.02L388.27 288.2A67.2 67.2 0 0 0 387.21 288.26Z" fill="#fde9cf"/></g>
<text x="137.3" y="25.5" dy=".35em" font-size="6" font-weight="700" transform="rotate(-90 137.3 25.5)" text-anchor="middle" fill="#111">T0</text>
<text x="189.6" y="52.9" dy=".35em" font-size="6" font-weight="700" transform="rotate(-90 189.6 52.9)" text-anchor="middle" fill="#111">T1</text>
<text x="216.3" y="110.3" dy=".35em" font-size="6" font-weight="700" transform="rotate(-90 216.3 110.3)" text-anchor="middle" fill="#111">T2</text>
<text x="203.9" y="176.6" dy=".35em" font-size="6" font-weight="700" transform="rotate(-90 203.9 176.6)" text-anchor="middle" fill="#111">T3</text>
<text x="153.4" y="203.4" dy=".35em" font-size="6" font-weight="700" transform="rotate(-90 153.4 203.4)" text-anchor="middle" fill="#111">T4</text>
<text x="95.2" y="208" dy=".35em" font-size="6" font-weight="700" transform="rotate(-90 95.2 208)" text-anchor="middle" fill="#111">T5</text>
<text x="38.6" y="195.6" dy=".35em" font-size="6" font-weight="700" transform="rotate(-90 38.6 195.6)" text-anchor="middle" fill="#111">T6</text>
<text x="15.4" y="145.6" dy=".35em" font-size="6" font-weight="700" transform="rotate(-90 15.4 145.6)" text-anchor="middle" fill="#111">T7</text>
<text x="22.5" y="79.7" dy=".35em" font-size="6" font-weight="700" transform="rotate(-90 22.5 79.7)" text-anchor="middle" fill="#111">T8</text>
<text x="70.4" y="30.9" dy=".35em" font-size="6" font-weight="700" transform="rotate(-90 70.4 30.9)" text-anchor="middle" fill="#111">T9</text>
<text x="154.2" y="43.6" dy=".35em" font-size="4" font-weight="700" transform="rotate(-90 154.2 43.6)" text-anchor="middle" fill="#111">8.16%</text>
<text x="191.4" y="78.8" dy=".35em" font-size="4" font-weight="700" transform="rotate(-90 191.4 78.8)" text-anchor="middle" fill="#111">12.46%</text>
<text x="200.2" y="135.8" dy=".35em" font-size="4" font-weight="700" transform="rotate(-90 200.2 135.8)" text-anchor="middle" fill="#111">10.04%</text>
<text x="173.2" y="193.4" dy=".35em" font-size="4" font-weight="700" transform="rotate(-90 173.2 193.4)" text-anchor="middle" fill="#111">11.51%</text>
<text x="126.1" y="212.6" dy=".35em" font-size="4" font-weight="700" transform="rotate(-90 126.1 212.6)" text-anchor="middle" fill="#111">8.83%</text>
<text x="73.6" y="204.4" dy=".35em" font-size="4" font-weight="700" transform="rotate(-90 73.6 204.4)" text-anchor="middle" fill="#111">10.54%</text>
<text x="38.6" y="168.9" dy=".35em" font-size="4" font-weight="700" transform="rotate(-90 38.6 168.9)" text-anchor="middle" fill="#111">9.85%</text>
<text x="29.6" y="126.8" dy=".35em" font-size="4" font-weight="700" transform="rotate(-90 29.6 126.8)" text-anchor="middle" fill="#111">6.9%</text>
<text x="56.9" y="55.8" dy=".35em" font-size="4" font-weight="700" transform="rotate(-90 56.9 55.8)" text-anchor="middle" fill="#111">14.44%</text>
<text x="99.1" y="36.8" dy=".35em" font-size="4" font-weight="700" transform="rotate(-90 99.1 36.8)" text-anchor="middle" fill="#111">8.79%</text>
<text x="480.5" y="61" dy=".35em" font-size="6" transform="rotate(-45 480.5 61)" text-anchor="middle" fill="#333">T0</text>
<text x="485.6" y="193.6" dy=".35em" font-size="6" transform="rotate(-40 485.6 193.6)" text-anchor="middle" fill="#333">T1</text>
<text x="374.2" y="217.1" dy=".35em" font-size="6" transform="rotate(-60 374.2 217.1)" text-anchor="middle" fill="#333">T4</text>
<text x="340" y="216.6" dy=".35em" font-size="6" transform="rotate(-45 340 216.6)" text-anchor="middle" fill="#333">T5</text>
<text x="308.5" y="180.7" dy=".35em" font-size="6" transform="rotate(-45 308.5 180.7)" text-anchor="middle" fill="#333">T6</text>
<text x="293.4" y="131.8" dy=".35em" font-size="6" transform="rotate(-48 293.4 131.8)" text-anchor="middle" fill="#333">T7</text>
<text x="310.6" y="75.8" dy=".35em" font-size="6" transform="rotate(-50 310.6 75.8)" text-anchor="middle" fill="#333">T8</text>
<text x="357.1" y="34" dy=".35em" font-size="6" transform="rotate(-45 357.1 34)" text-anchor="middle" fill="#333">T9</text>
<text x="399" y="219.8" dy=".35em" font-size="6.6" font-weight="700" text-anchor="middle" fill="#111">T3</text>
<text x="427.9" y="216.6" dy=".35em" font-size="6.6" font-weight="700" text-anchor="middle" fill="#111">T2</text>
<text x="389" y="219.1" dy=".35em" font-size="4.4" font-weight="700" text-anchor="middle" fill="#111">3.78%</text>
<text x="413.2" y="219.1" dy=".35em" font-size="4.4" font-weight="700" text-anchor="middle" fill="#111">5.25%</text>
<text x="481.1" y="87.5" dy=".35em" font-size="4" font-weight="700" transform="rotate(-90 481.1 87.5)" text-anchor="middle" fill="#111">20%</text>
<text x="489.3" y="142" dy=".35em" font-size="4" font-weight="700" transform="rotate(-90 489.3 142)" text-anchor="middle" fill="#111">30.87%</text>
<text x="445.7" y="214" dy=".35em" font-size="4" font-weight="700" transform="rotate(-90 445.7 214)" text-anchor="middle" fill="#111">15.83%</text>
<text x="364" y="215.6" dy=".35em" font-size="4" font-weight="700" transform="rotate(-90 364 215.6)" text-anchor="middle" fill="#111">4.01%</text>
<text x="340" y="200.5" dy=".35em" font-size="4" font-weight="700" transform="rotate(-90 340 200.5)" text-anchor="middle" fill="#111">4.84%</text>
<text x="314" y="149.3" dy=".35em" font-size="4" font-weight="700" transform="rotate(-90 314 149.3)" text-anchor="middle" fill="#111">9.41%</text>
<text x="313" y="119.8" dy=".35em" font-size="4" font-weight="700" transform="rotate(-90 313 119.8)" text-anchor="middle" fill="#111">5.54%</text>
<text x="342.5" y="56.5" dy=".35em" font-size="4" font-weight="700" transform="rotate(-90 342.5 56.5)" text-anchor="middle" fill="#111">12.45%</text>
<text x="383.7" y="39" dy=".35em" font-size="4" font-weight="700" transform="rotate(-90 383.7 39)" text-anchor="middle" fill="#111">8.02%</text>
<text x="196" y="285.5" dy=".35em" font-size="6" transform="rotate(-45 196 285.5)" text-anchor="middle" fill="#333">T0</text>
<text x="206" y="404.5" dy=".35em" font-size="6" transform="rotate(-45 206 404.5)" text-anchor="middle" fill="#333">T1</text>
<text x="172" y="439" dy=".35em" font-size="6" transform="rotate(-45 172 439)" text-anchor="middle" fill="#333">T2</text>
<text x="129.5" y="440" dy=".35em" font-size="6" transform="rotate(-45 129.5 440)" text-anchor="middle" fill="#333">T3</text>
<text x="93.8" y="438" dy=".35em" font-size="6" transform="rotate(-45 93.8 438)" text-anchor="middle" fill="#333">T4</text>
<text x="56.4" y="435.5" dy=".35em" font-size="6" transform="rotate(-45 56.4 435.5)" text-anchor="middle" fill="#333">T5</text>
<text x="30.2" y="407.5" dy=".35em" font-size="6" transform="rotate(-45 30.2 407.5)" text-anchor="middle" fill="#333">T6</text>
<text x="12" y="347" dy=".35em" font-size="6" transform="rotate(-50 12 347)" text-anchor="middle" fill="#333">T7</text>
<text x="33.5" y="289.5" dy=".35em" font-size="6" transform="rotate(-60 33.5 289.5)" text-anchor="middle" fill="#333">T8</text>
<text x="70.7" y="257.5" dy=".35em" font-size="6" transform="rotate(-60 70.7 257.5)" text-anchor="middle" fill="#333">T9</text>
<text x="208.7" y="364" dy=".35em" font-size="4.2" transform="rotate(-38 208.7 364)" text-anchor="middle" fill="#444">31.55%</text>
<text x="178.2" y="417" dy=".35em" font-size="4.2" transform="rotate(-42 178.2 417)" text-anchor="middle" fill="#444">10.74%</text>
<text x="153.8" y="429.8" dy=".35em" font-size="4.2" transform="rotate(-42 153.8 429.8)" text-anchor="middle" fill="#444">4.7%</text>
<text x="108.4" y="441.6" dy=".35em" font-size="4.2" transform="rotate(-45 108.4 441.6)" text-anchor="middle" fill="#444">7.8%</text>
<text x="78.2" y="436.2" dy=".35em" font-size="4.2" transform="rotate(-45 78.2 436.2)" text-anchor="middle" fill="#444">4.69%</text>
<text x="53.8" y="417.3" dy=".35em" font-size="4.2" transform="rotate(-45 53.8 417.3)" text-anchor="middle" fill="#444">5.26%</text>
<text x="33.5" y="385.3" dy=".35em" font-size="4.2" transform="rotate(-45 33.5 385.3)" text-anchor="middle" fill="#444">6.4%</text>
<text x="34.6" y="315" dy=".35em" font-size="4.2" transform="rotate(-50 34.6 315)" text-anchor="middle" fill="#444">13.37%</text>
<text x="55.7" y="288" dy=".35em" font-size="4.2" transform="rotate(-53 55.7 288)" text-anchor="middle" fill="#444">5.98%</text>
<text x="103.3" y="259" dy=".35em" font-size="4.2" transform="rotate(-53 103.3 259)" text-anchor="middle" fill="#444">9.42%</text>
<text x="461" y="277" dy=".35em" font-size="6" transform="rotate(-45 461 277)" text-anchor="middle" fill="#333">T0</text>
<text x="492.5" y="388" dy=".35em" font-size="6" transform="rotate(-45 492.5 388)" text-anchor="middle" fill="#333">T1</text>
<text x="439.8" y="430.8" dy=".35em" font-size="6" transform="rotate(-45 439.8 430.8)" text-anchor="middle" fill="#333">T2</text>
<text x="362.9" y="439.2" dy=".35em" font-size="6" transform="rotate(-45 362.9 439.2)" text-anchor="middle" fill="#333">T4</text>
<text x="319.7" y="429.8" dy=".35em" font-size="6" transform="rotate(-45 319.7 429.8)" text-anchor="middle" fill="#333">T5</text>
<text x="295.5" y="398.8" dy=".35em" font-size="6" transform="rotate(-45 295.5 398.8)" text-anchor="middle" fill="#333">T6</text>
<text x="284.1" y="355.6" dy=".35em" font-size="6" transform="rotate(-45 284.1 355.6)" text-anchor="middle" fill="#333">T7</text>
<text x="300.1" y="301.2" dy=".35em" font-size="6" transform="rotate(-55 300.1 301.2)" text-anchor="middle" fill="#333">T8</text>
<text x="343.4" y="261" dy=".35em" font-size="6" transform="rotate(-60 343.4 261)" text-anchor="middle" fill="#333">T9</text>
<text x="401.2" y="442.8" dy=".35em" font-size="6.2" font-weight="700" text-anchor="middle" fill="#111">T3</text>
<text x="385.3" y="443.4" dy=".35em" font-size="4.4" font-weight="700" text-anchor="middle" fill="#111">6.98%</text>
<text x="471.5" y="313" dy=".35em" font-size="4.2" transform="rotate(-45 471.5 313)" text-anchor="middle" fill="#444">20%</text>
<text x="484.7" y="341.5" dy=".35em" font-size="4.2" transform="rotate(-40 484.7 341.5)" text-anchor="middle" fill="#444">28.57%</text>
<text x="456.7" y="414.2" dy=".35em" font-size="4.2" transform="rotate(-40 456.7 414.2)" text-anchor="middle" fill="#444">14.71%</text>
<text x="420.9" y="440.2" dy=".35em" font-size="4.2" transform="rotate(-45 420.9 440.2)" text-anchor="middle" fill="#444">6.86%</text>
<text x="346.3" y="433.3" dy=".35em" font-size="4.2" transform="rotate(-45 346.3 433.3)" text-anchor="middle" fill="#444">6.5%</text>
<text x="316.3" y="409.1" dy=".35em" font-size="4.2" transform="rotate(-45 316.3 409.1)" text-anchor="middle" fill="#444">7.22%</text>
<text x="301.4" y="380.4" dy=".35em" font-size="4.2" transform="rotate(-45 301.4 380.4)" text-anchor="middle" fill="#444">4.82%</text>
<text x="299" y="340.7" dy=".35em" font-size="4.2" transform="rotate(-45 299 340.7)" text-anchor="middle" fill="#444">7.46%</text>
<text x="328.4" y="292.7" dy=".35em" font-size="4.2" transform="rotate(-48 328.4 292.7)" text-anchor="middle" fill="#444">9.4%</text>
<text x="377" y="263" dy=".35em" font-size="4.2" transform="rotate(-50 377 263)" text-anchor="middle" fill="#444">9.88%</text>
<text x="103.6" y="40.9" dy="0" font-size="5.1" transform="rotate(-46 103.6 40.9)" text-anchor="start" fill="#222">Before Treatment</text>
<text x="110" y="40.9" dy="0" font-size="5.1" transform="rotate(-44 110 40.9)" text-anchor="start" fill="#222">After Treatment</text>
<text x="388.9" y="43.3" dy="0" font-size="5.6" transform="rotate(-45 388.9 43.3)" text-anchor="start" fill="#222">Before Treatment</text>
<text x="396.6" y="43.3" dy="0" font-size="5.55" transform="rotate(-43 396.6 43.3)" text-anchor="start" fill="#222">After Treatment</text>
<text x="104.7" y="265.7" dy="0" font-size="4.7" transform="rotate(-45.3 104.7 265.7)" text-anchor="start" fill="#222">Before Treatment</text>
<text x="112" y="265.7" dy="0" font-size="4.85" transform="rotate(-42.6 112 265.7)" text-anchor="start" fill="#222">After Treatment</text>
<text x="379.5" y="268.7" dy="0" font-size="5.1" transform="rotate(-45 379.5 268.7)" text-anchor="start" fill="#222">Before Treatment</text>
<text x="386.6" y="268.7" dy="0" font-size="5" transform="rotate(-43.8 386.6 268.7)" text-anchor="start" fill="#222">After Treatment</text>
<text x="16.1" y="219.8" dy="0" font-size="6.13" font-weight="700" text-anchor="start" fill="#111">Disease Severity JalalPur Peer Wala</text>
<text x="411.2" y="42.7" dy="0" font-size="6.29" font-weight="700" text-anchor="start" fill="#111">Disease Severity Shujabad</text>
<text x="395.3" y="269.3" dy="0" font-size="6.32" font-weight="700" text-anchor="start" fill="#111">Disease Severity Tatay Pur</text>
<g transform="translate(219.58 31.5) scale(1.1 1)" font-size="30" font-weight="700" stroke-linejoin="round"><text stroke="#1a6e4b" stroke-width="1.3" fill="#1a6e4b">A</text><text stroke="#22ab74" stroke-width=".35" fill="#22ab74">A</text></g>
<g transform="translate(521.22 31.5) scale(0.94 1)" font-size="30" font-weight="700" stroke-linejoin="round"><text stroke="#1a6e4b" stroke-width="1.3" fill="#1a6e4b">B</text><text stroke="#22ab74" stroke-width=".35" fill="#22ab74">B</text></g>
<g transform="translate(220.29 257.8) scale(0.98 1)" font-size="30" font-weight="700" stroke-linejoin="round"><text stroke="#1a6e4b" stroke-width="1.3" fill="#1a6e4b">C</text><text stroke="#22ab74" stroke-width=".35" fill="#22ab74">C</text></g>
<g transform="translate(520.34 257.9) scale(1.07 1)" font-size="30" font-weight="700" stroke-linejoin="round"><text stroke="#1a6e4b" stroke-width="1.3" fill="#1a6e4b">D</text><text stroke="#22ab74" stroke-width=".35" fill="#22ab74">D</text></g>
</svg>
</body></html>
